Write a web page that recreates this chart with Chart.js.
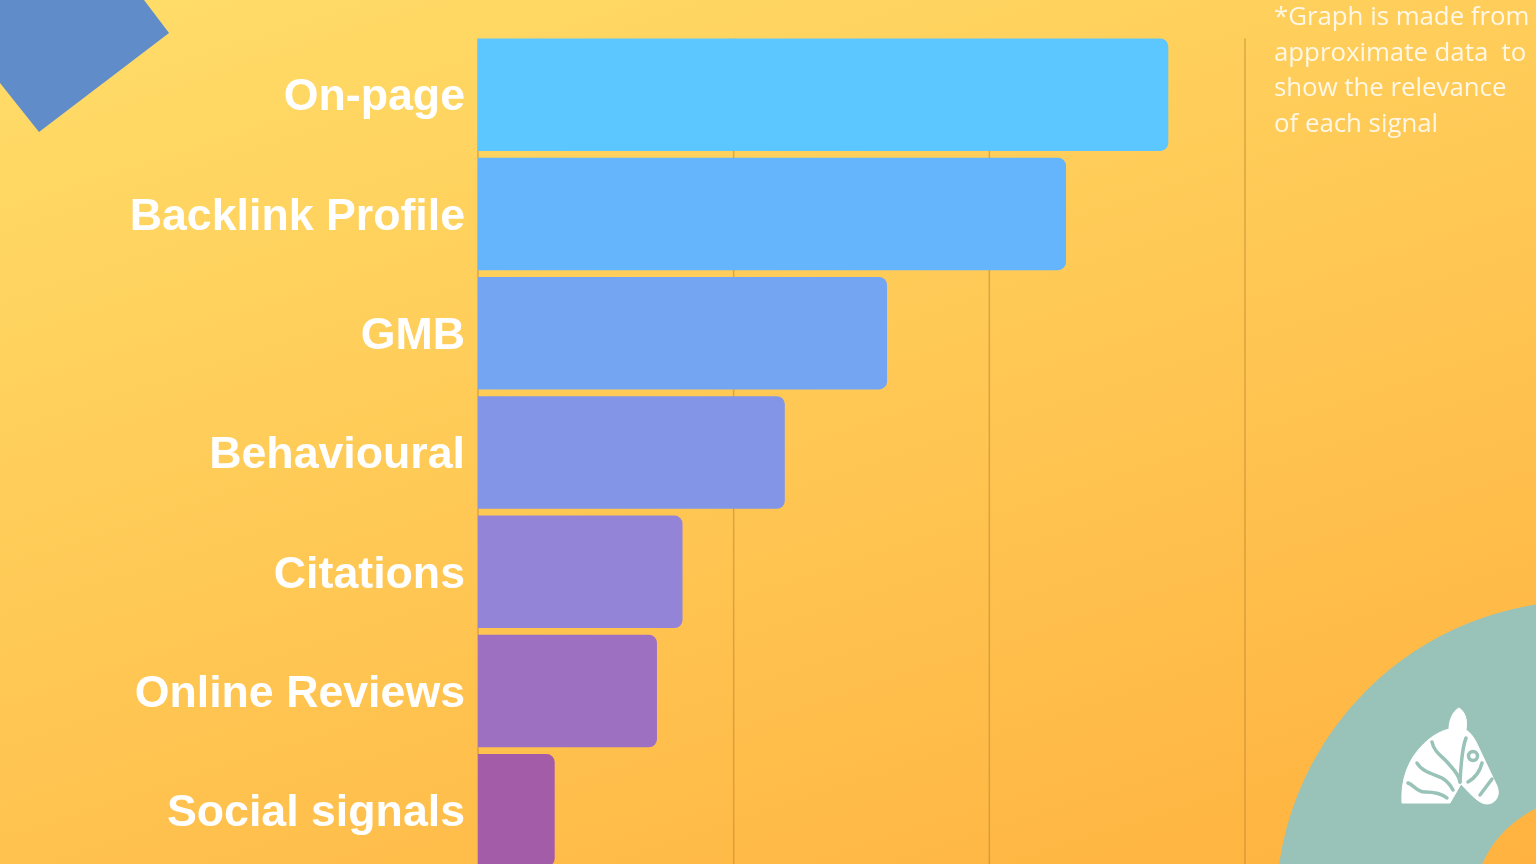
<!DOCTYPE html>
<html>
<head>
<meta charset="utf-8">
<title>Local ranking signals</title>
<script src="https://cdn.jsdelivr.net/npm/chart.js@4"></script>
<style>
    html, body { margin: 0; padding: 0; overflow: hidden; width: 1536px; height: 864px; }
    body { position: relative; background: linear-gradient(162deg, #ffdd69 0%, #ffb23f 100%); }
    #decor, #chart { position: absolute; left: 0; top: 0; }
    #note {
        position: absolute; left: 1274px; top: -2px; margin: 0; white-space: pre;
        font: 25.8px/35.5px "Open Sans", sans-serif; color: rgba(255, 255, 255, 0.85);
    }
</style>
</head>
<body>
<svg id="decor" width="1536" height="864" viewBox="0 0 1536 864">
    <polygon points="0,83 39,132 169,33 144,0 0,0" fill="#608dca"/>
    <circle cx="1583" cy="908" r="208.5" fill="none" stroke="#99c3b8" stroke-width="197"/>
    <path fill="#fff" stroke="#fff" stroke-width="1" stroke-linejoin="round"
          d="M1459 708 C1464 711 1468 718 1466 730 C1471 733 1475 739 1478 746 L1497 786 C1501 796 1495 804 1487 804
             C1480 804 1473 797 1461 784 L1450 803 L1402 803 C1401 785 1405 770 1413 757 C1421 745 1433 733 1449 729
             C1449 720 1453 711 1459 708 Z"/>
    <g fill="none" stroke="#99c3b8" stroke-width="3.5" stroke-linecap="round" stroke-linejoin="round">
        <path d="M1432 742 C1434 752 1442 756 1448 763 C1453 769 1459 774 1460 782"/>
        <path d="M1466 738 C1462 748 1461 762 1460 782"/>
        <path d="M1417 763 C1422 772 1434 774 1442 778 C1447 781 1451 786 1453 790"/>
        <path d="M1408 783 C1414 785 1417 792 1425 792 C1432 792 1441 793 1447 798"/>
        <path d="M1482 763 C1480 771 1475 778 1468 782"/>
        <path d="M1492 779 L1480 795"/>
        <circle cx="1473" cy="756" r="4.5" fill="#fff"/>
    </g>
</svg>
<canvas id="chart" width="1536" height="880"></canvas>
<p id="note">*Graph is made from
approximate data  to
show the relevance
of each signal</p>
<script>
const categories = ['On-page', 'Backlink Profile', 'GMB', 'Behavioural', 'Citations', 'Online Reviews', 'Social signals'];
const relevance = [27, 23, 16, 12, 8, 7, 3];
const barColors = ['#5cc6ff', '#64b5fc', '#74a5f2', '#8395e6', '#9384d8', '#9d70c2', '#a35ca8'];
const tickValues = [0, 10, 20, 30];

const gridColor = 'rgba(190, 135, 50, 0.55)';
const gridTop = 38.5;

// grid starts level with the first bar, not at the top of the band
const gridPlugin = {
    id: 'grid',
    beforeDatasetsDraw(chart) {
        const ctx = chart.ctx;
        const x = chart.scales.x;
        ctx.save();
        ctx.strokeStyle = gridColor;
        ctx.lineWidth = 1.5;
        x.ticks.forEach((tick, i) => {
            const px = x.getPixelForTick(i);
            ctx.beginPath();
            ctx.moveTo(px, gridTop);
            ctx.lineTo(px, chart.chartArea.bottom);
            ctx.stroke();
        });
        ctx.restore();
    }
};

new Chart(document.getElementById('chart').getContext('2d'), {
    type: 'bar',
    data: {
        labels: categories,
        datasets: [{
            data: relevance,
            backgroundColor: barColors,
            borderRadius: 8,
            categoryPercentage: 1,
            barPercentage: 0.943
        }]
    },
    options: {
        indexAxis: 'y',
        responsive: false,
        animation: false,
        layout: { padding: { top: 35, right: 291, bottom: 10, left: 0 } },
        plugins: { legend: { display: false }, tooltip: { enabled: false } },
        scales: {
            x: {
                min: tickValues[0],
                max: tickValues[tickValues.length - 1],
                afterFit: (scale) => { scale.height = 0; },
                ticks: { display: false, stepSize: 10 },
                grid: { display: false },
                border: { display: false }
            },
            y: {
                // labels must not push the chart area in
                afterFit: (scale) => {
                    scale.width = 478;
                    scale.paddingTop = 0;
                    scale.paddingBottom = 0;
                },
                grid: { display: false, drawTicks: false },
                border: { display: false },
                ticks: {
                    padding: 13,
                    labelOffset: 3.5,
                    color: '#fff',
                    font: { family: '"Liberation Sans", Arial, sans-serif', weight: 'bold', size: 44.7 }
                }
            }
        }
    },
    plugins: [gridPlugin]
});
</script>
</body>
</html>
